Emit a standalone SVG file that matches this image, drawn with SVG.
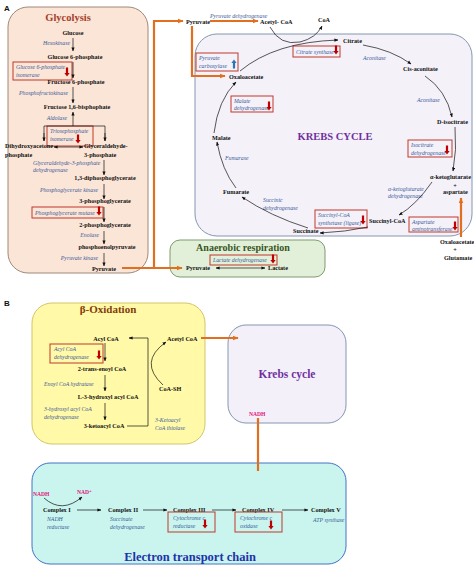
<svg xmlns="http://www.w3.org/2000/svg" xmlns:xlink="http://www.w3.org/1999/xlink" width="474" height="566" viewBox="0 0 474 566">
<style>
.m{font-family:'Liberation Serif',serif;font-weight:bold;font-size:6.2px;fill:#111}
.e{font-family:'Liberation Serif',serif;font-style:italic;font-size:5.8px;fill:#3b5b9a}
.c{text-anchor:middle}
.rb{fill:none;stroke:#c0392b;stroke-width:1}
.ln{fill:none;stroke:#111;stroke-width:0.7;marker-end:url(#ah)}
.lnp{fill:none;stroke:#111;stroke-width:0.7}
.or{fill:none;stroke:#e0701f;stroke-width:2.2}
.ttl{font-family:'Liberation Serif',serif;font-weight:bold}
.pk{font-family:'Liberation Serif',serif;font-weight:bold;font-size:5.6px;fill:#e0157a}
.lbl{font-family:'Liberation Sans',sans-serif;font-weight:bold;font-size:8px;fill:#111}
</style>
<defs>
<marker id="ah" viewBox="0 0 10 10" refX="9" refY="5" markerWidth="4" markerHeight="4" markerUnits="userSpaceOnUse" orient="auto-start-reverse"><path d="M0,1 L10,5 L0,9 z" fill="#111"/></marker>
<marker id="ao" viewBox="0 0 10 10" refX="9" refY="5" markerWidth="6" markerHeight="6" markerUnits="userSpaceOnUse" orient="auto"><path d="M0,1 L10,5 L0,9 z" fill="#e0701f"/></marker>
<g id="rd"><rect x="-1.1" y="-4.5" width="2.2" height="5.5" fill="#c00000"/><path d="M-2.6,1 L2.6,1 L0,4.5 z" fill="#c00000"/></g>
<g id="bu"><rect x="-1.1" y="-1" width="2.2" height="5.5" fill="#2e75b6"/><path d="M-2.6,-1 L2.6,-1 L0,-4.5 z" fill="#2e75b6"/></g>
</defs>
<rect width="474" height="566" fill="#fff"/>
<text class="lbl" x="4" y="11">A</text>
<text class="lbl" x="4" y="306">B</text>

<g id="glycolysis">
<rect x="8" y="7" width="140" height="266" rx="20" fill="#fbe5d6" stroke="#a08878" stroke-width="1"/>
<text class="ttl c" x="68" y="21" font-size="10.5" fill="#a5402d">Glycolysis</text>
<text class="m c" x="73" y="35">Glucose</text>
<text class="e" x="70" y="45" text-anchor="end">Hexokinase</text>
<text class="m c" x="75" y="59">Glucose 6-phosphate</text>
<rect class="rb" x="13" y="62" width="59" height="18"/>
<text class="e" x="16" y="69">Glucose 6-phosphate</text>
<text class="e" x="16" y="77">isomerase</text>
<use href="#rd" x="67" y="72"/>
<text class="m c" x="76" y="84">Fructose 6-phosphate</text>
<text class="e" x="68" y="95" text-anchor="end">Phosphofructokinase</text>
<text class="m c" x="77" y="109">Fructose 1,6-bisphophate</text>
<text class="e" x="67" y="120" text-anchor="end">Aldolase</text>
<rect class="rb" x="47" y="126" width="46" height="20"/>
<text class="e" x="50" y="133">Triosephosphate</text>
<text class="e" x="50" y="141">isomerase</text>
<use href="#rd" x="78" y="139"/>
<text class="m" x="5" y="148">Dihydroxyacetone</text>
<text class="m" x="5" y="157">phosphate</text>
<text class="m" x="84" y="148">Glyceraldehyde-</text>
<text class="m" x="84" y="157">3-phosphate</text>
<text class="e" x="33" y="165">Glyceraldehyde-3-phosphate</text>
<text class="e" x="33" y="172">dehydrogenase</text>
<text class="m c" x="105" y="180">1,3-diphosphoglycerate</text>
<text class="e" x="98" y="192" text-anchor="end">Phosphoglycerate kinase</text>
<text class="m c" x="105" y="203">3-phosphoglycerate</text>
<rect class="rb" x="32" y="207" width="71" height="11"/>
<text class="e" x="35" y="214.5">Phosphoglycerate mutase</text>
<use href="#rd" x="99" y="211"/>
<text class="m c" x="105" y="227">2-phosphoglycerate</text>
<text class="e" x="99" y="237" text-anchor="end">Enolase</text>
<text class="m c" x="107" y="249">phosphoenolpyruvate</text>
<text class="e" x="98" y="260" text-anchor="end">Pyruvate kinase</text>
<text class="m c" x="104" y="271">Pyruvate</text>
</g>

<g id="krebs-a">
<rect x="195" y="34" width="277" height="202" rx="22" fill="#f4f1f9" stroke="#8496b0" stroke-width="1"/>
<text class="ttl c" x="335" y="140" font-size="10.5" fill="#7030a0">KREBS CYCLE</text>
<text class="m" x="186" y="24">Pyruvate</text>
<text class="e" x="210" y="17.5">Pyruvate dehydrogenase</text>
<text class="m" x="260" y="24">Acetyl- CoA</text>
<text class="m" x="318" y="22">CoA</text>
<text class="m" x="229" y="79">Oxaloacetate</text>
<rect class="rb" x="196" y="53" width="42" height="18"/>
<text class="e" x="199" y="60">Pyruvate</text>
<text class="e" x="199" y="68">carboxylase</text>
<use href="#bu" x="234" y="64"/>
<text class="m" x="343" y="43">Citrate</text>
<rect class="rb" x="293" y="46" width="47" height="11"/>
<text class="e" x="296" y="53.5">Citrate synthase</text>
<use href="#rd" x="336" y="50"/>
<text class="e" x="363" y="60">Aconitase</text>
<text class="m" x="403" y="71">Cis-aconitate</text>
<text class="e" x="417" y="102">Aconitase</text>
<text class="m" x="437" y="124">D-isocitrate</text>
<rect class="rb" x="408" y="140" width="44" height="17"/>
<text class="e" x="411" y="147">Isocitrate</text>
<text class="e" x="411" y="155">dehydrogenase</text>
<use href="#rd" x="447" y="150"/>
<text class="m" x="430" y="179">α-ketoglutarate</text>
<text class="m c" x="455" y="188" font-size="8">+</text>
<text class="m" x="443" y="194">aspartate</text>
<text class="e" x="388" y="191">α-ketoglutarate</text>
<text class="e" x="388" y="198">dehydrogenase</text>
<rect class="rb" x="315" y="210" width="52" height="18"/>
<text class="e" x="318" y="217">Succinyl-CoA</text>
<text class="e" x="318" y="225">synthetase (ligase)</text>
<use href="#rd" x="363" y="220"/>
<text class="m" x="369" y="223">Succinyl-CoA</text>
<text class="m" x="293" y="233">Succinate</text>
<text class="e" x="263" y="202">Succinic</text>
<text class="e" x="263" y="210">dehydrogenase</text>
<text class="m" x="223" y="194">Fumarate</text>
<text class="e" x="225" y="160">Fumarase</text>
<text class="m" x="212" y="140">Malate</text>
<rect class="rb" x="231" y="96" width="42" height="16"/>
<text class="e" x="234" y="103">Malate</text>
<text class="e" x="234" y="110">dehydrogenase</text>
<use href="#rd" x="269" y="106"/>
<rect class="rb" x="409" y="217" width="49" height="15"/>
<text class="e" x="412" y="223.5">Aspartate</text>
<text class="e" x="412" y="230.5">aminotransferase</text>
<use href="#rd" x="455" y="226"/>
<text class="m" x="440" y="244">Oxaloacetate</text>
<text class="m c" x="455" y="252" font-size="8">+</text>
<text class="m" x="444" y="260">Glutamate</text>
</g>

<g id="anaerobic">
<rect x="170" y="240" width="155" height="37" rx="10" fill="#e2f0d9" stroke="#7f9a70" stroke-width="1"/>
<text class="ttl c" x="243" y="250.5" font-size="10" fill="#375623">Anaerobic respiration</text>
<rect class="rb" x="210" y="255" width="67" height="10"/>
<text class="e" x="213" y="262">Lactate dehydrogenase</text>
<use href="#rd" x="273" y="259"/>
<text class="m" x="186" y="270">Pyruvate</text>
<text class="m" x="268" y="270">Lactate</text>
</g>

<g id="beta-oxidation">
<rect x="32" y="303" width="173" height="141" rx="20" fill="#fff9a8" stroke="#d4c56a" stroke-width="1"/>
<text class="ttl c" x="108" y="313" font-size="11" fill="#843c0c">β-Oxidation</text>
<text class="m c" x="106" y="341">Acyl CoA</text>
<rect class="rb" x="50" y="344" width="53" height="19"/>
<text class="e" x="54" y="351">Acyl CoA</text>
<text class="e" x="54" y="359">dehydrogenase</text>
<use href="#rd" x="99" y="355"/>
<text class="m c" x="102" y="371">2-trans-enoyl CoA</text>
<text class="e" x="44" y="386">Enoyl CoA hydratase</text>
<text class="m c" x="108" y="399">L-3-hydroxyl acyl CoA</text>
<text class="e" x="44" y="411">3-hydroxyl acyl CoA</text>
<text class="e" x="44" y="419">dehydrogenase</text>
<text class="m c" x="104" y="428">3-ketoacyl CoA</text>
<text class="e" x="155" y="422">3-Ketoacyl</text>
<text class="e" x="155" y="430">CoA thiolase</text>
<text class="m" x="167" y="341">Acetyl CoA</text>
<text class="m" x="159" y="391">CoA-SH</text>
</g>

<g id="krebs-b">
<rect x="228" y="325" width="118" height="98" rx="18" fill="#f4f0f9" stroke="#8496b0" stroke-width="1"/>
<text class="ttl c" x="287" y="378" font-size="11.5" fill="#7030a0">Krebs cycle</text>
<text class="pk" x="249" y="416">NADH</text>
</g>

<g id="etc">
<rect x="32" y="463" width="314" height="101" rx="18" fill="#c9f5ee" stroke="#4472c4" stroke-width="1"/>
<text class="pk" x="33" y="496">NADH</text>
<text class="pk" x="77" y="494">NAD<tspan font-size="4" dy="-2">+</tspan></text>
<text class="m" x="43" y="512">Complex I</text>
<text class="m" x="108" y="512">Complex II</text>
<text class="m" x="173" y="512">Complex III</text>
<text class="m" x="242" y="512">Complex IV</text>
<text class="m" x="311" y="512">Complex V</text>
<text class="e" x="47" y="521">NADH</text>
<text class="e" x="47" y="529">reductase</text>
<text class="e" x="110" y="521">Succinate</text>
<text class="e" x="110" y="529">dehydrogenase</text>
<rect class="rb" x="168" y="512" width="47" height="20"/>
<text class="e" x="173" y="520">Cytochrome c</text>
<text class="e" x="173" y="528">reductase</text>
<use href="#rd" x="205" y="524"/>
<rect class="rb" x="235" y="512" width="47" height="20"/>
<text class="e" x="240" y="520">Cytochrome c</text>
<text class="e" x="240" y="528">oxidase</text>
<use href="#rd" x="271" y="525"/>
<text class="e" x="313" y="522">ATP synthase</text>
<text class="ttl c" x="190" y="561" font-size="12.5" fill="#2233aa">Electron transport chain</text>
</g>

<g id="connectors">
<!-- glycolysis -->
<path class="ln" d="M73,38 V51"/>
<path class="ln" d="M73,62 V78"/>
<path class="ln" d="M73,87 V103"/>
<path class="lnp" d="M73,112 V126" marker-start="url(#ah)"/>
<path class="lnp" d="M44,141 V126 H105 V141"/>
<path class="ln" d="M44,133 V141"/>
<path class="ln" d="M105,133 V141"/>
<path class="ln" d="M54,147 H83" marker-start="url(#ah)"/>
<path class="ln" d="M104,160 V175"/>
<path class="ln" d="M104,184 V199"/>
<path class="ln" d="M104,207 V222"/>
<path class="ln" d="M104,231 V244"/>
<path class="ln" d="M104,253 V266"/>
<!-- orange -->
<path class="or" d="M122,268 H182" marker-end="url(#ao)"/>
<path class="or" d="M154,268 V21 H183" marker-end="url(#ao)"/>
<path class="or" d="M210,21 H258" marker-end="url(#ao)"/>
<path class="or" d="M192,26 V76 H225" marker-end="url(#ao)"/>
<path class="or" d="M461,237 V198" marker-end="url(#ao)"/>
<path class="or" d="M201,338 H238" marker-end="url(#ao)"/>
<path class="or" d="M258,418 V471"/>
<!-- krebs -->
<path class="ln" d="M240,71 Q275,42 338,40"/>
<path class="ln" d="M270,27 Q280,46 300,42 Q316,38 322,26"/>
<path class="ln" d="M363,45 Q392,50 411,64"/>
<path class="ln" d="M425,76 Q446,90 452,117"/>
<path class="ln" d="M455,127 Q457,150 453,171"/>
<path class="ln" d="M432,182 Q416,205 399,215"/>
<path class="ln" d="M368,227 Q345,232 320,233"/>
<path class="ln" d="M308,228 Q270,216 242,197"/>
<path class="ln" d="M236,188 Q222,170 217,142"/>
<path class="ln" d="M214,133 Q218,100 236,82"/>
<path class="ln" d="M216,268 H265" marker-start="url(#ah)"/>
<!-- beta oxidation -->
<path class="ln" d="M105,343 V361"/>
<path class="ln" d="M105,375 V391"/>
<path class="ln" d="M105,403 V420"/>
<path class="ln" d="M127,426 H148 V338 H129" stroke="#555"/>
<path class="ln" d="M163,385 Q138,362 166,342"/>
<!-- etc -->
<path class="ln" d="M44,498 Q62,514 82,497"/>
<path class="ln" d="M77,510 H101"/>
<path class="ln" d="M143,510 H167"/>
<path class="ln" d="M212,510 H236"/>
<path class="ln" d="M282,510 H308"/>
</g>
</svg>
